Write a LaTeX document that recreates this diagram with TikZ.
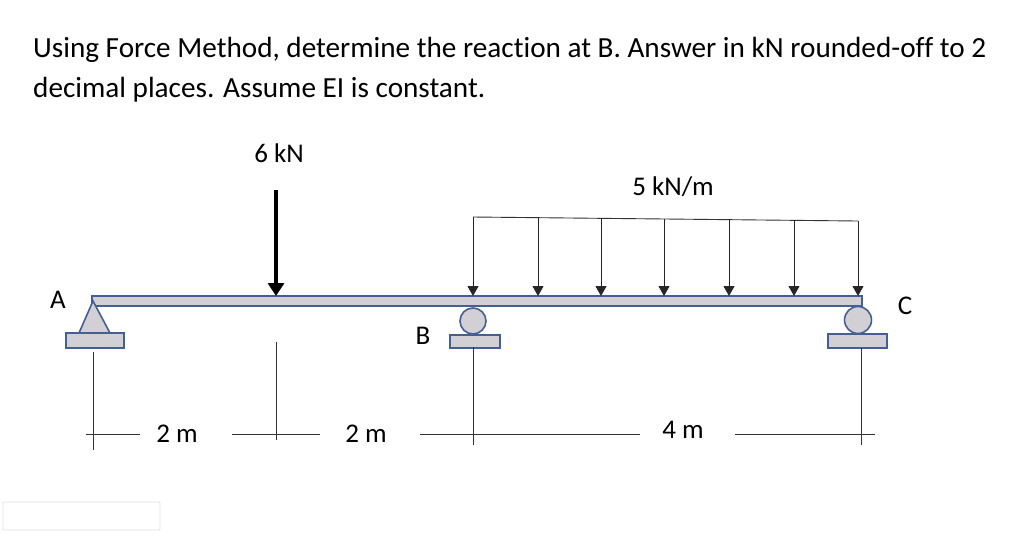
\documentclass[tikz,border=0pt]{standalone}
\usepackage{fontspec}
\setmainfont{Carlito}[Ligatures=NoCommon]
\usetikzlibrary{arrows.meta}
\definecolor{bblue}{RGB}{68,95,150}
\definecolor{bgray}{RGB}{210,208,212}
\begin{document}
\begin{tikzpicture}[x=1pt,y=-1pt,
  mem/.style={draw=bblue,fill=bgray,line width=1.6pt},
  dim/.style={draw=black!80,line width=0.8pt},
  udl/.style={draw=black!85,line width=0.9pt,-{Triangle[length=10pt,width=11pt]}},
  lbl/.style={font=\fontsize{27}{30}\selectfont,inner sep=0pt}]
\useasboundingbox (0,0) rectangle (1024,539);
\fill[white] (0,0) rectangle (1024,539);
\node[anchor=west,font=\fontsize{29.2}{34}\selectfont,inner sep=0pt] (t1) at (33,50) {Using Force Method, determine the reaction at B. Answer in kN rounded-off to 2};
\node[anchor=west,font=\fontsize{29.2}{34}\selectfont,inner sep=0pt] (t2) at (33,90) {decimal places. Assume EI is constant.};
% beam
\draw[mem] (92,296) rectangle (862,306);
% support A
\draw[mem] (93,301) -- (110,333) -- (79,333) -- cycle;
\draw[mem] (66,333) rectangle (124,348);
% roller B
\draw[mem] (473,321) circle (13);
\draw[mem] (450,335) rectangle (500,348);
% roller C
\draw[mem] (858,320) circle (13.5);
\draw[mem] (828,334) rectangle (887,348);
% point load
\coordinate (p0) at (276,190);
\coordinate (p1) at (276,296);
\draw[line width=3.5pt,-{Triangle[length=13pt,width=16pt]}] (p0) -- (p1);
\node[lbl] (lp) at (279,153) {6 kN};
% UDL
\draw[dim,line width=0.9pt] (473,217) -- (858,221);
\foreach \x/\yt in {473/217,538/218,601/218,664/219,729/220,794/220,858/221}{
  \draw[udl] (\x,\yt) -- (\x,296);
}
\node[lbl] (lw) at (673,187) {5 kN/m};
% labels
\node[lbl] (la) at (58,300) {A};
\node[lbl] (lb) at (423,336) {B};
\node[lbl] (lc) at (905,306) {C};
% dimensions
\draw[dim] (93,352) -- (93,450);
\draw[dim] (276,342) -- (276,440);
\draw[dim] (473,347) -- (473,445);
\draw[dim] (861,348) -- (861,445);
\draw[dim] (86,434) -- (140,434);
\draw[dim] (232,434) -- (320,434);
\draw[dim] (420,434) -- (640,434);
\draw[dim] (735,434) -- (875,434);
\node[lbl] (d1) at (177,434) {2 m};
\node[lbl] (d2) at (366,434) {2 m};
\node[lbl] (d3) at (683,430) {4 m};
% faint box
\draw[black!12,line width=0.8pt,rounded corners=1pt] (3,502) rectangle (160,530);
\end{tikzpicture}
\end{document}
